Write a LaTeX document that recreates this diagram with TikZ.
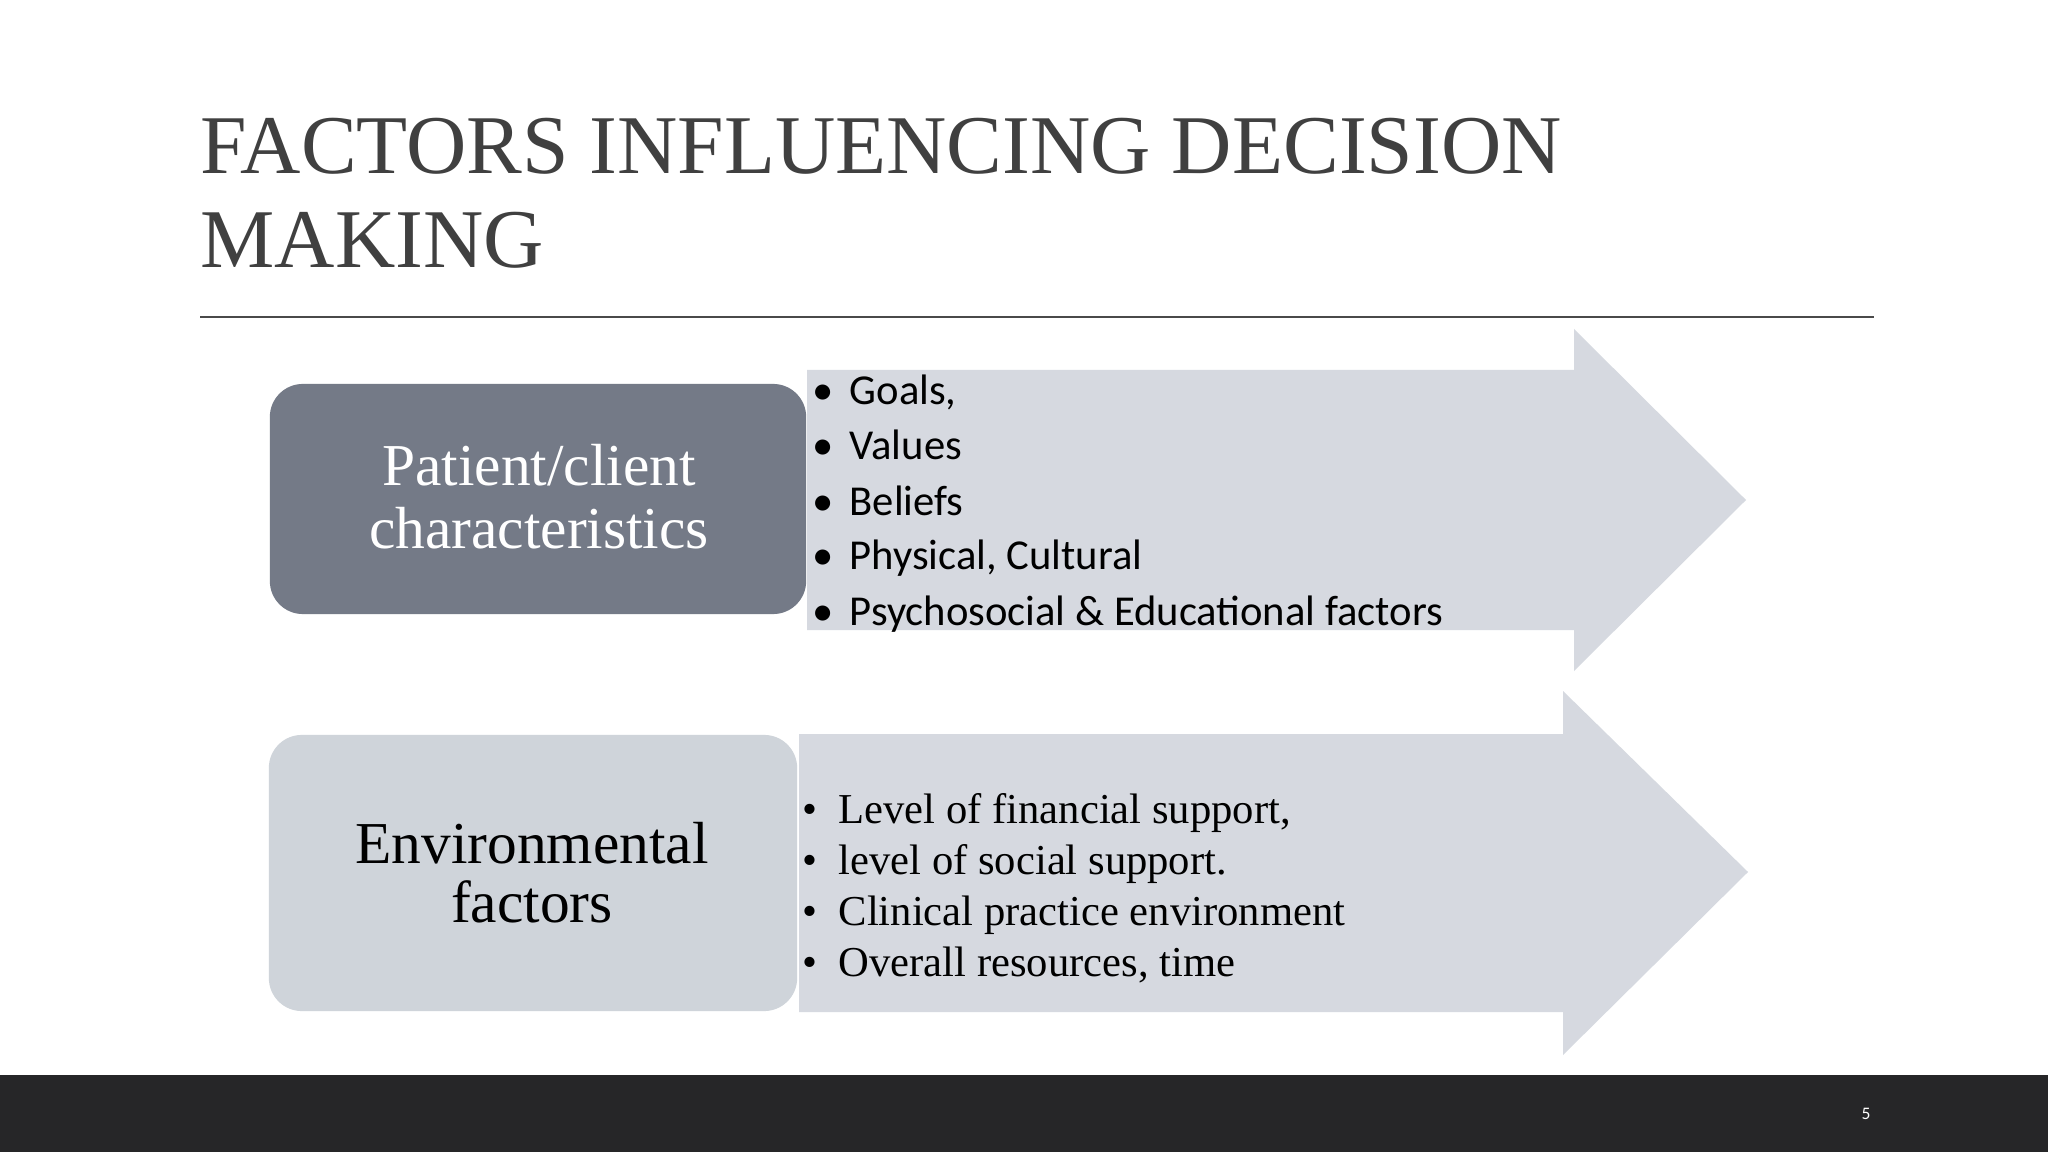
\documentclass[tikz,border=0pt]{standalone}
\usepackage{fontspec}
\setmainfont{Liberation Serif}
\newfontfamily\calibfont{Carlito}
\definecolor{titlegray}{HTML}{404040}
\definecolor{rulegray}{HTML}{4A4A4A}
\definecolor{darkbox}{HTML}{747A87}
\definecolor{lightbox}{HTML}{CFD4DA}
\definecolor{arrowfill}{HTML}{D6D9E0}
\definecolor{footerbar}{HTML}{262628}
\tikzset{
  titletext/.style={anchor=base west, inner sep=0pt, text=titlegray, font=\fontsize{23.75pt}{26.7pt}\selectfont},
  boxshape/.style={rectangle, rounded corners=0.33cm, inner sep=0pt},
  boxtext/.style={anchor=base, inner sep=0pt, font=\fontsize{16.9pt}{18pt}\selectfont},
  calibitem/.style={anchor=base west, inner sep=0pt, font=\calibfont\fontsize{12.12pt}{14pt}\selectfont, text=black},
  timesitem/.style={anchor=base west, inner sep=0pt, font=\fontsize{12.12pt}{14pt}\selectfont, text=black},
}
\begin{document}
\begin{tikzpicture}[x=0.01cm, y=-0.01cm]
\useasboundingbox (0,0) rectangle (2048,1152);
\fill[white] (0,0) rectangle (2048,1152);

% footer
\fill[footerbar] (0,1075) rectangle (2048,1152);
\node[anchor=base, inner sep=0pt, text=white, font=\calibfont\fontsize{5pt}{6pt}\selectfont] (pnum) at (1866,1119) {5};

% title
\node[titletext] (title1) at (200,174) {FACTORS INFLUENCING DECISION};
\node[titletext] (title2) at (200,268) {MAKING};
\coordinate (ruleL) at (200,317);
\coordinate (ruleR) at (1874,317);
\draw[rulegray, line width=0.6pt] (ruleL) -- (ruleR);

% arrows
\fill[arrowfill] (807,370) -- (1574,370) -- (1574,329) -- (1746,500) -- (1574,671) -- (1574,630) -- (807,630) -- cycle;
\fill[arrowfill] (799,734) -- (1563,734) -- (1563,691) -- (1748,872) -- (1563,1055) -- (1563,1012) -- (799,1012) -- cycle;

% boxes
\node[boxshape, fill=darkbox, minimum width=5.36cm, minimum height=2.30cm] (patbox) at (538,499) {};
\node[boxtext, text=white] (pat1) at (539,486) {Patient/client};
\node[boxtext, text=white] (pat2) at (539,549) {characteristics};

\node[boxshape, fill=lightbox, minimum width=5.28cm, minimum height=2.76cm] (envbox) at (533,873) {};
\node[boxtext, text=black] (env1) at (532,863) {Environmental};
\node[boxtext, text=black] (env2) at (532,922) {factors};

% top bullet list
\foreach \y/\t [count=\i] in {405/{Goals,}, 460/{Values}, 515/{Beliefs}, 570/{Physical, Cultural}, 625/{Psychosocial \& Educational factors}} {
  \node[calibitem] (pb\i) at (812,\y) {\textbullet};
  \node[calibitem] (pt\i) at (849,\y) {\t};
}

% bottom bullet list
\foreach \y/\t [count=\i] in {823/{Level of financial support,}, 874/{level of social support.}, 925/{Clinical practice environment}, 976/{Overall resources, time}} {
  \node[timesitem] (eb\i) at (802,\y) {\textbullet};
  \node[timesitem] (et\i) at (838,\y) {\t};
}
\end{tikzpicture}
\end{document}
